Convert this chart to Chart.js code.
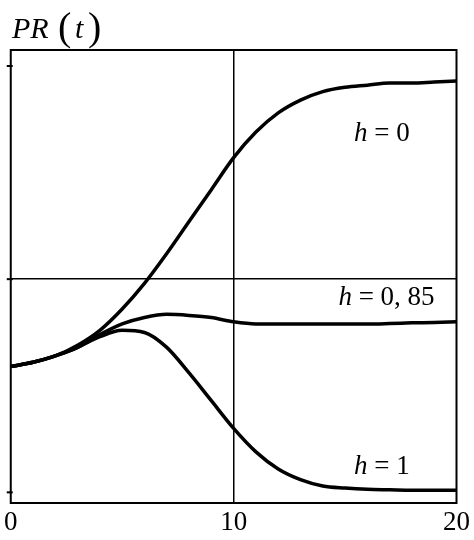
<!DOCTYPE html>
<html>
<head>
<meta charset="utf-8">
<script src="https://cdn.jsdelivr.net/npm/chart.js"></script>
<style>body{margin:0;background:#fff}</style>
</head>
<body>
<canvas id="c" width="474" height="540"></canvas>
<script>
const tValues = [0,1,2,3,4,5,6,7,8,9,10,11,12,13,14,15,16,17,18,19,20];
const prH0 = [0.59,0.61,0.64,0.69,0.76,0.86,0.98,1.12,1.27,1.42,1.57,1.69,1.78,1.84,1.88,1.90,1.91,1.92,1.92,1.925,1.93];
const prH085 = [0.59,0.61,0.64,0.68,0.74,0.79,0.82,0.835,0.83,0.82,0.80,0.79,0.79,0.79,0.79,0.79,0.79,0.792,0.795,0.797,0.80];
const prH1 = [0.59,0.61,0.64,0.68,0.73,0.76,0.75,0.68,0.56,0.43,0.30,0.19,0.11,0.06,0.03,0.02,0.014,0.012,0.01,0.01,0.01];
const curveLabels = [
    { name: 'h', rest: ' = 0', t: 15.4, v: 1.68 },
    { name: 'h', rest: ' = 0, 85', t: 14.7, v: 0.91 },
    { name: 'h', rest: ' = 1', t: 15.4, v: 0.12 }
];
const xTicks = [0, 10, 20];
const yTicks = [0, 1, 2];

function series(vals) {
    return {
        data: tValues.map((t, i) => ({ x: t, y: vals[i] })),
        borderColor: '#000', borderWidth: 3.5, pointRadius: 0,
        cubicInterpolationMode: 'monotone', fill: false
    };
}

const decor = {
    id: 'decor',
    afterDraw(chart) {
        const ctx = chart.ctx, a = chart.chartArea;
        const xs = chart.scales.x, ys = chart.scales.y;
        ctx.save();
        ctx.strokeStyle = '#000';
        ctx.lineWidth = 2;
        ctx.strokeRect(a.left, a.top, a.right - a.left, a.bottom - a.top);
        yTicks.forEach(v => {
            const y = ys.getPixelForValue(v);
            ctx.beginPath(); ctx.moveTo(a.left - 4, y); ctx.lineTo(a.left + 2, y); ctx.stroke();
        });
        ctx.fillStyle = '#000';
        ctx.textBaseline = 'middle';
        curveLabels.forEach(l => {
            const x = xs.getPixelForValue(l.t), y = ys.getPixelForValue(l.v);
            ctx.font = 'italic 27px "Liberation Serif"';
            ctx.fillText(l.name, x, y);
            const w = ctx.measureText(l.name).width;
            ctx.font = '27px "Liberation Serif"';
            ctx.fillText(l.rest, x + w, y);
        });
        ctx.textBaseline = 'alphabetic';
        ctx.font = 'italic 30px "Liberation Serif"';
        ctx.fillText('PR', 12, 38);
        ctx.font = '40px "Liberation Serif"';
        ctx.fillText('(', 58, 40);
        ctx.font = 'italic 30px "Liberation Serif"';
        ctx.fillText('t', 75, 38);
        ctx.font = '40px "Liberation Serif"';
        ctx.fillText(')', 88, 40);
        ctx.restore();
    }
};

new Chart(document.getElementById('c'), {
    type: 'line',
    data: { datasets: [series(prH0), series(prH085), series(prH1)] },
    options: {
        responsive: false,
        animation: false,
        layout: { padding: { left: 10, right: 10, top: 50, bottom: 0 } },
        plugins: { legend: { display: false }, tooltip: { enabled: false } },
        scales: {
            x: {
                type: 'linear', min: 0, max: 20,
                afterBuildTicks: s => { s.ticks = xTicks.map(v => ({ value: v })); },
                afterFit: s => { s.height = 37; },
                grid: {
                    color: c => c.tick && c.tick.value === 10 ? '#000' : 'rgba(0,0,0,0)',
                    lineWidth: 1.5, drawTicks: false
                },
                border: { display: false },
                ticks: { color: '#000', font: { family: 'Liberation Serif', size: 27 }, padding: 4, maxRotation: 0 }
            },
            y: {
                type: 'linear', min: -0.05, max: 2.075,
                afterBuildTicks: s => { s.ticks = yTicks.map(v => ({ value: v })); },
                afterFit: s => { s.width = 0; },
                grid: {
                    color: c => c.tick && c.tick.value === 1 ? '#000' : 'rgba(0,0,0,0)',
                    lineWidth: 1.5, drawTicks: false
                },
                border: { display: false },
                ticks: { display: false }
            }
        }
    },
    plugins: [decor]
});
</script>
</body>
</html>
